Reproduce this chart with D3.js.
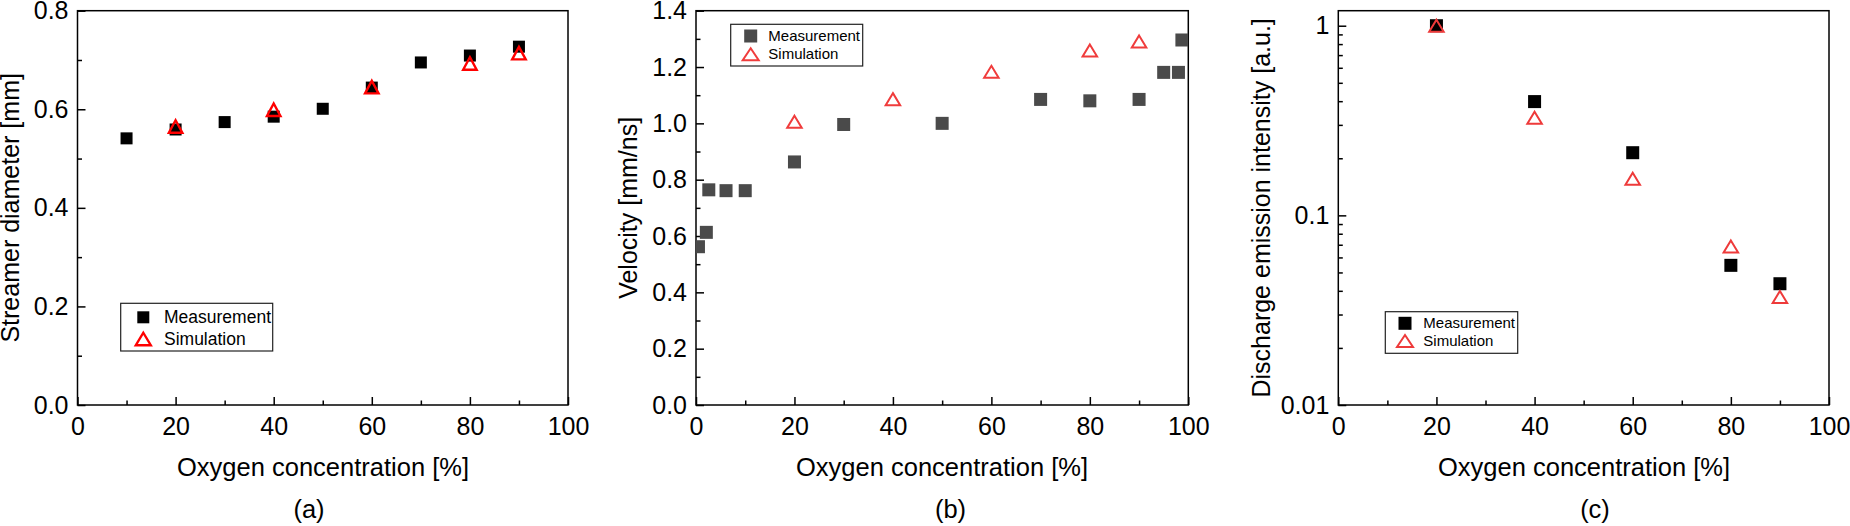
<!DOCTYPE html>
<html>
<head>
<meta charset="utf-8">
<script src="https://cdn.jsdelivr.net/npm/d3@7"></script>
<style>
    body { margin: 0; background: #fff; }
    svg { display: block; font-family: "Liberation Sans", Arial, sans-serif; }
</style>
</head>
<body>
<svg id="chart" width="1850" height="526"></svg>
<script>
// values
const oxygenTicks = [0, 20, 40, 60, 80, 100];
const oxygenMinor = [10, 30, 50, 70, 90];

const diameterMeasX = [10, 20, 30, 40, 50, 60, 70, 80, 90];
const diameterMeasY = [0.541, 0.559, 0.574, 0.585, 0.601, 0.644, 0.695, 0.709, 0.727];
const diameterSimX = [20, 40, 60, 80, 90];
const diameterSimY = [0.565, 0.599, 0.645, 0.693, 0.714];
const diameterTicks = [0, 0.2, 0.4, 0.6, 0.8];
const diameterMinor = [0.1, 0.3, 0.5, 0.7];

const velocityMeasX = [0.5, 2.1, 2.6, 6.1, 10, 20, 30, 50, 70, 80, 90, 95, 98, 98.7];
const velocityMeasY = [0.562, 0.613, 0.764, 0.761, 0.761, 0.863, 0.996, 1.0, 1.085, 1.08, 1.085, 1.181, 1.181, 1.296];
const velocitySimX = [20, 40, 60, 80, 90];
const velocitySimY = [1.006, 1.086, 1.183, 1.259, 1.291];
const velocityTicks = [0, 0.2, 0.4, 0.6, 0.8, 1.0, 1.2, 1.4];
const velocityMinor = [0.1, 0.3, 0.5, 0.7, 0.9, 1.1, 1.3];

const emissionMeasX = [20, 40, 60, 80, 90];
const emissionMeasY = [1.0, 0.398, 0.214, 0.0545, 0.0436];
const emissionSimX = [20, 40, 60, 80, 90];
const emissionSimY = [1.0, 0.327, 0.156, 0.0686, 0.0371];
const emissionTicks = [0.01, 0.1, 1];
const emissionTickLabels = ["0.01", "0.1", "1"];
const emissionMinor = [0.02, 0.03, 0.04, 0.05, 0.06, 0.07, 0.08, 0.09, 0.2, 0.3, 0.4, 0.5, 0.6, 0.7, 0.8, 0.9];

const legendNames = ["Measurement", "Simulation"];
const xTitle = "Oxygen concentration [%]";

const panels = [
    {
        name: "(a)", yTitle: "Streamer diameter [mm]",
        left: 77.5, right: 568, top: 10.7, bottom: 405,
        yLog: false, yDomain: [0, 0.8], yTicks: diameterTicks, yMinor: diameterMinor,
        yFormat: d3.format(".1f"),
        meas: d3.zip(diameterMeasX, diameterMeasY), sim: d3.zip(diameterSimX, diameterSimY),
        sqColor: "#000", sqSize: 12, triColor: "#ff0000", triW: 13.5, triH: 12.5, triStroke: 2.4,
        legend: { x: 120.7, y: 303.3, w: 152, h: 47.7, symX: 143.3, rows: [317.3, 339], textX: 164, font: 17.5 },
        yTitleX: 19, xTitleX: 323, labelX: 309
    },
    {
        name: "(b)", yTitle: "Velocity [mm/ns]",
        left: 696, right: 1188.3, top: 10.7, bottom: 405,
        yLog: false, yDomain: [0, 1.4], yTicks: velocityTicks, yMinor: velocityMinor,
        yFormat: d3.format(".1f"),
        meas: d3.zip(velocityMeasX, velocityMeasY), sim: d3.zip(velocitySimX, velocitySimY),
        sqColor: "#4a4a4a", sqSize: 13, triColor: "#f03c3c", triW: 14.5, triH: 12, triStroke: 2,
        legend: { x: 730.7, y: 24.3, w: 132, h: 41.7, symX: 750.7, rows: [36, 54.3], textX: 768.3, font: 15 },
        yTitleX: 637, xTitleX: 942, labelX: 950.5
    },
    {
        name: "(c)", yTitle: "Discharge emission intensity [a.u.]",
        left: 1338.3, right: 1829, top: 10.7, bottom: 405,
        yLog: true, yDomain: [0.01, 1.2], yTicks: emissionTicks, yMinor: emissionMinor,
        yFormat: function (d, i) { return emissionTickLabels[i]; },
        meas: d3.zip(emissionMeasX, emissionMeasY), sim: d3.zip(emissionSimX, emissionSimY),
        sqColor: "#000", sqSize: 13, triColor: "#ee3a3a", triW: 14.5, triH: 12, triStroke: 2,
        legend: { x: 1385.3, y: 311.7, w: 132.4, h: 41.6, symX: 1405, rows: [323.3, 341], textX: 1423.3, font: 15 },
        yTitleX: 1270, xTitleX: 1584, labelX: 1595
    }
];

const svg = d3.select("#chart");

function triPath(w, h) {
    return "M0," + (-h / 2) + "L" + (w / 2) + "," + (h / 2) + "L" + (-w / 2) + "," + (h / 2) + "Z";
}

function drawPanel(p, idx) {
    const g = svg.append("g");

    let x = d3.scaleLinear().domain([0, 100]).range([p.left, p.right]);
    let y = (p.yLog ? d3.scaleLog() : d3.scaleLinear())
        .domain(p.yDomain)
        .range([p.bottom, p.top]);

    // minor ticks
    g.append("g")
        .attr("transform", "translate(" + p.left + ",0)")
        .call(d3.axisLeft(y).tickValues(p.yMinor).tickSize(-4.5).tickFormat(""))
        .call(s => s.select(".domain").remove());
    g.append("g")
        .attr("transform", "translate(0," + p.bottom + ")")
        .call(d3.axisBottom(x).tickValues(oxygenMinor).tickSize(-4.5).tickFormat(""))
        .call(s => s.select(".domain").remove());

    // major ticks + labels
    g.append("g")
        .attr("transform", "translate(" + p.left + ",0)")
        .call(d3.axisLeft(y).tickValues(p.yTicks).tickSize(-8).tickPadding(9).tickFormat(p.yFormat))
        .call(s => s.select(".domain").remove());
    g.append("g")
        .attr("transform", "translate(0," + p.bottom + ")")
        .call(d3.axisBottom(x).tickValues(oxygenTicks).tickSize(-8).tickPadding(12))
        .call(s => s.select(".domain").remove());

    g.selectAll(".tick line").attr("stroke", "#000").attr("stroke-width", 1.5);
    g.selectAll(".tick text").attr("font-size", 25).attr("fill", "#000")
        .attr("font-family", "Liberation Sans, Arial, sans-serif");

    // frame
    g.append("rect")
        .attr("x", p.left).attr("y", p.top)
        .attr("width", p.right - p.left).attr("height", p.bottom - p.top)
        .attr("fill", "none").attr("stroke", "#000").attr("stroke-width", 1.5);

    // markers, clipped to the plot box
    const clipId = "clip" + idx;
    svg.append("clipPath").attr("id", clipId)
        .append("rect")
        .attr("x", p.left).attr("y", p.top)
        .attr("width", p.right - p.left).attr("height", p.bottom - p.top);

    const marks = g.append("g").attr("clip-path", "url(#" + clipId + ")");

    marks.selectAll(".sq")
        .data(p.meas)
        .enter().append("rect")
        .attr("x", d => x(d[0]) - p.sqSize / 2)
        .attr("y", d => y(d[1]) - p.sqSize / 2)
        .attr("width", p.sqSize).attr("height", p.sqSize)
        .attr("fill", p.sqColor);

    marks.selectAll(".tri")
        .data(p.sim)
        .enter().append("path")
        .attr("d", triPath(p.triW, p.triH))
        .attr("transform", d => "translate(" + x(d[0]) + "," + y(d[1]) + ")")
        .attr("fill", "none")
        .attr("stroke", p.triColor)
        .attr("stroke-width", p.triStroke);

    // legend
    const L = p.legend;
    g.append("rect")
        .attr("x", L.x).attr("y", L.y).attr("width", L.w).attr("height", L.h)
        .attr("fill", "#fff").attr("stroke", "#222").attr("stroke-width", 1.2);
    g.append("rect")
        .attr("x", L.symX - p.sqSize / 2).attr("y", L.rows[0] - p.sqSize / 2)
        .attr("width", p.sqSize).attr("height", p.sqSize)
        .attr("fill", p.sqColor);
    g.append("path")
        .attr("d", triPath(p.triW + 1.5, p.triH))
        .attr("transform", "translate(" + L.symX + "," + L.rows[1] + ")")
        .attr("fill", "none").attr("stroke", p.triColor).attr("stroke-width", p.triStroke);
    legendNames.forEach(function (name, i) {
        g.append("text")
            .attr("x", L.textX).attr("y", L.rows[i] + L.font * 0.34)
            .attr("font-size", L.font)
            .text(name);
    });

    // titles
    g.append("text")
        .attr("transform", "translate(" + p.yTitleX + "," + ((p.top + p.bottom) / 2) + ") rotate(-90)")
        .attr("text-anchor", "middle")
        .attr("font-size", 25)
        .text(p.yTitle);
    g.append("text")
        .attr("x", p.xTitleX).attr("y", 476)
        .attr("text-anchor", "middle")
        .attr("font-size", 25.5)
        .text(xTitle);
    g.append("text")
        .attr("x", p.labelX).attr("y", 518)
        .attr("text-anchor", "middle")
        .attr("font-size", 25.5)
        .text(p.name);
}

panels.forEach(drawPanel);
</script>
</body>
</html>
